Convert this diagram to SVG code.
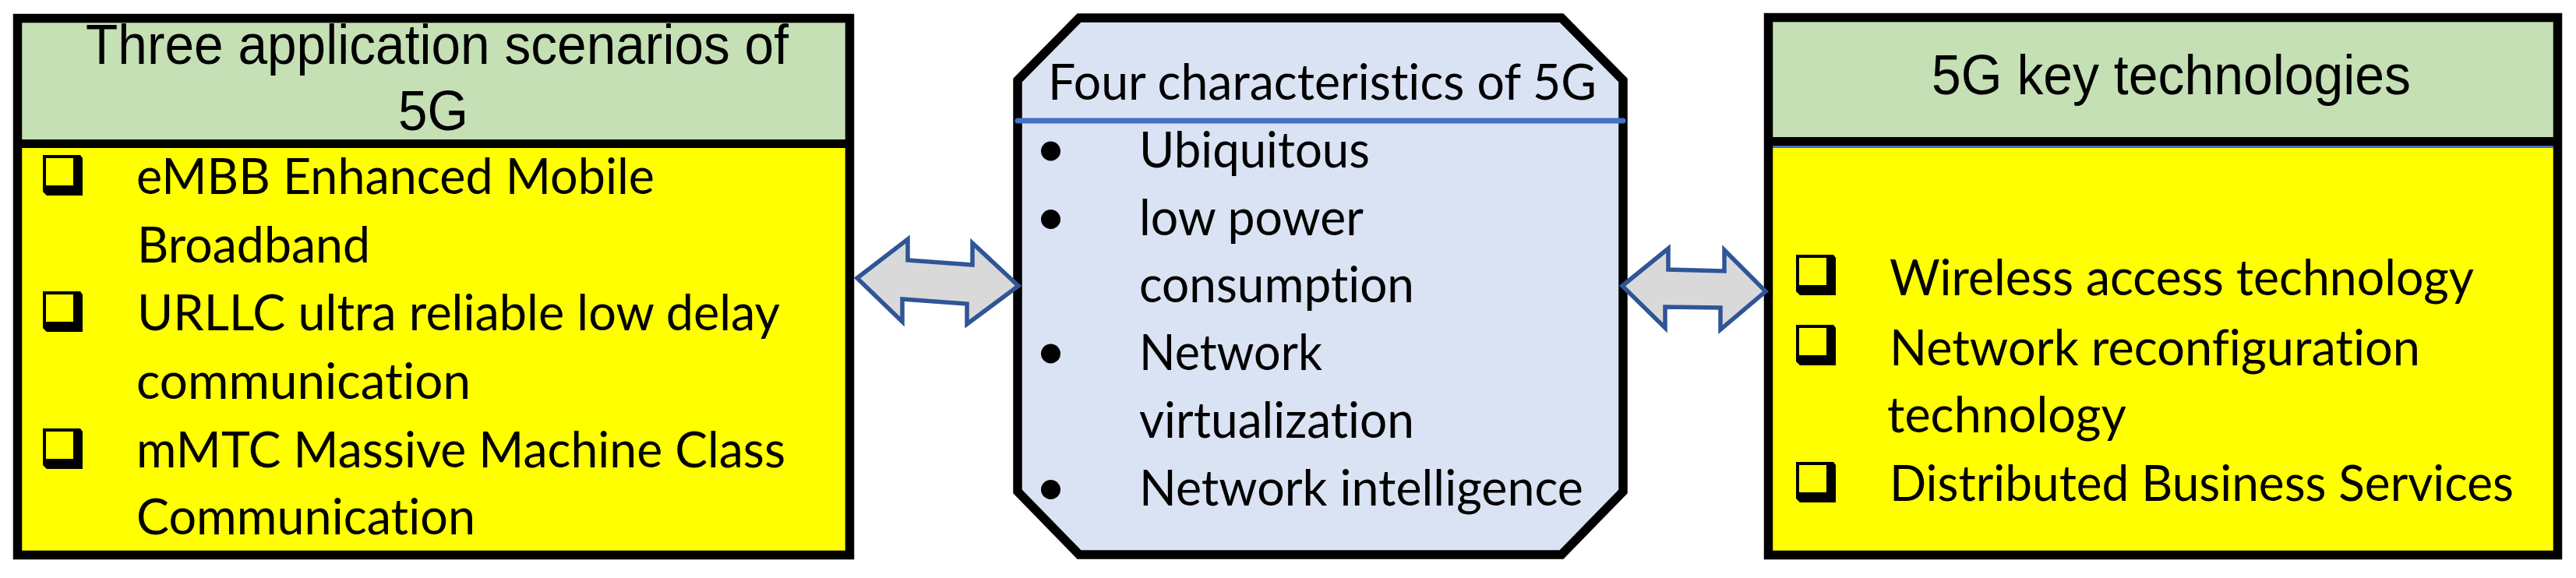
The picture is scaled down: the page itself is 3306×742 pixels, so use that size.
<svg xmlns="http://www.w3.org/2000/svg" xmlns:xlink="http://www.w3.org/1999/xlink" width="3306" height="742" viewBox="0 0 3306 742">
<style>
.hdr{font-family:"Liberation Sans",Arial,sans-serif;font-size:73px;fill:#000}
.bt{font-family:Lato,"Open Sans",sans-serif;font-size:63px;fill:#000;font-variant-ligatures:none;font-feature-settings:"liga" 0,"dlig" 0,"clig" 0}
.frame{fill:none;stroke:#000;stroke-width:11.5;stroke-linejoin:miter}
.green{fill:#C5E0B4}
.yellow{fill:#FFFF00}
.arrow{fill:#D9D9D9;stroke:#2F5597;stroke-width:5.5;stroke-linejoin:miter}
</style>
<defs>
<g id="cb">
<path d="M43,0 H48 L51,4 V52 H5 L0,47 V43 H43 Z" fill="#000"/>
<rect x="2" y="2" width="39" height="39" fill="none" stroke="#000" stroke-width="4"/>
</g>
</defs>
<rect width="3306" height="742" fill="#fff"/>

<g id="scenarios">
<rect class="green" x="22" y="23" width="1069" height="162"/>
<rect class="yellow" x="22" y="185" width="1069" height="527"/>
<line x1="22" y1="184.5" x2="1091" y2="184.5" stroke="#000" stroke-width="11"/>
<rect class="frame" x="22.5" y="23.5" width="1068" height="689"/>
<text class="hdr" x="110" y="82" textLength="902" lengthAdjust="spacingAndGlyphs">Three application scenarios of</text>
<text class="hdr" x="511" y="167" textLength="90" lengthAdjust="spacingAndGlyphs">5G</text>
<use xlink:href="#cb" x="55" y="199"/>
<use xlink:href="#cb" x="55" y="374"/>
<use xlink:href="#cb" x="55" y="550"/>
<text class="bt" x="175" y="249" textLength="665" lengthAdjust="spacingAndGlyphs">eMBB Enhanced Mobile</text>
<text class="bt" x="176" y="337" textLength="299" lengthAdjust="spacingAndGlyphs">Broadband</text>
<text class="bt" x="176" y="424" textLength="825" lengthAdjust="spacingAndGlyphs">URLLC ultra reliable low delay</text>
<text class="bt" x="175" y="512" textLength="429" lengthAdjust="spacingAndGlyphs">communication</text>
<text class="bt" x="175" y="600" textLength="833" lengthAdjust="spacingAndGlyphs">mMTC Massive Machine Class</text>
<text class="bt" x="175" y="686" textLength="435" lengthAdjust="spacingAndGlyphs">Communication</text>
</g>

<g id="characteristics">
<polygon points="1385,23 2004,23 2083,103 2083,631 2004,712 1385,712 1306,631 1306,103" fill="#DAE3F3" stroke="#000" stroke-width="11.5" stroke-linejoin="miter"/>
<line x1="1306" y1="155" x2="2083" y2="155" stroke="#4472C4" stroke-width="7" stroke-linecap="round"/>
<text class="bt" x="1345" y="128" textLength="704" lengthAdjust="spacingAndGlyphs">Four characteristics of 5G</text>
<circle cx="1348.5" cy="194" r="12.5"/>
<circle cx="1348.5" cy="281.5" r="12.5"/>
<circle cx="1348.5" cy="454" r="12.5"/>
<circle cx="1348.5" cy="628.5" r="12.5"/>
<text class="bt" x="1462" y="215" textLength="296" lengthAdjust="spacingAndGlyphs">Ubiquitous</text>
<text class="bt" x="1462" y="301.5" textLength="288" lengthAdjust="spacingAndGlyphs">low power</text>
<text class="bt" x="1462" y="388" textLength="353" lengthAdjust="spacingAndGlyphs">consumption</text>
<text class="bt" x="1462" y="474.5" textLength="235" lengthAdjust="spacingAndGlyphs">Network</text>
<text class="bt" x="1462" y="562" textLength="353" lengthAdjust="spacingAndGlyphs">virtualization</text>
<text class="bt" x="1462" y="648.5" textLength="570" lengthAdjust="spacingAndGlyphs">Network intelligence</text>
</g>

<g id="technologies">
<rect class="green" x="2269" y="22" width="1014" height="160"/>
<rect class="yellow" x="2269" y="182" width="1014" height="530"/>
<line x1="2269" y1="181.5" x2="3283" y2="181.5" stroke="#000" stroke-width="11"/>
<line x1="2266" y1="188.5" x2="3288" y2="188.5" stroke="#4472C4" stroke-width="3"/>
<rect class="frame" x="2269.5" y="22.5" width="1013" height="690"/>
<text class="hdr" x="2479" y="121" textLength="615" lengthAdjust="spacingAndGlyphs">5G key technologies</text>
<use xlink:href="#cb" x="2305" y="327"/>
<use xlink:href="#cb" x="2305" y="417"/>
<use xlink:href="#cb" x="2305" y="593"/>
<text class="bt" x="2425" y="379" textLength="750" lengthAdjust="spacingAndGlyphs">Wireless access technology</text>
<text class="bt" x="2425" y="469" textLength="681" lengthAdjust="spacingAndGlyphs">Network reconfiguration</text>
<text class="bt" x="2422" y="555" textLength="307" lengthAdjust="spacingAndGlyphs">technology</text>
<text class="bt" x="2425" y="643" textLength="801" lengthAdjust="spacingAndGlyphs">Distributed Business Services</text>
</g>

<g id="connectors">
<polygon class="arrow" points="1100,357 1165,307 1165,334 1248,340 1248,312 1307,367 1241,416 1241,390 1158,384 1158,413"/>
<polygon class="arrow" points="2082,367 2141,319 2141,346 2213,348 2213,321 2266,374 2208,423 2208,395 2137,394 2137,421"/>
</g>
</svg>
